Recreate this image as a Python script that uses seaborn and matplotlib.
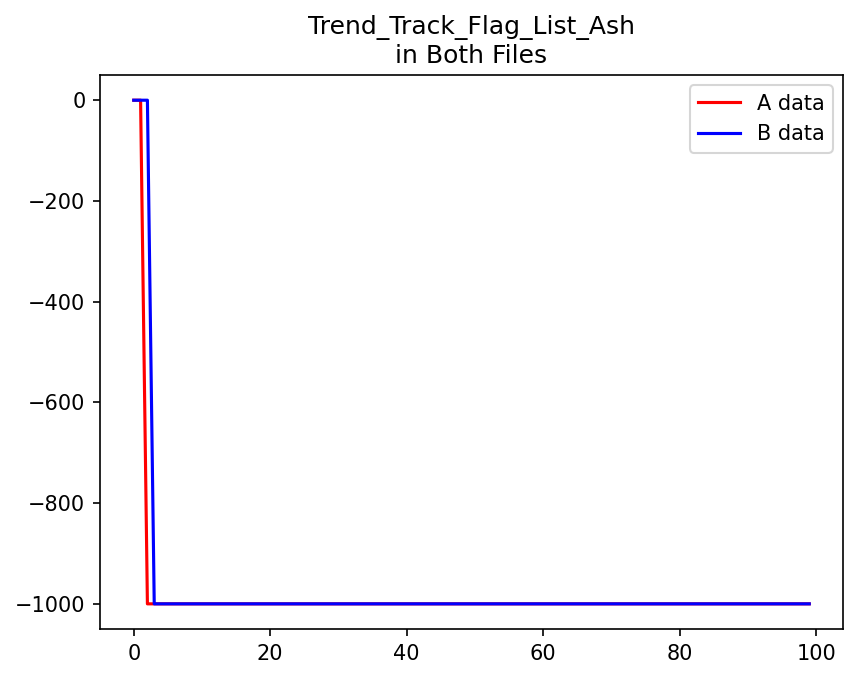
import numpy as np
import pandas as pd
import matplotlib
matplotlib.use("Agg")
import matplotlib.pyplot as plt
import seaborn as sns

# sample index and values
idx = list(range(100))
a_vals = [0, 0] + [-1000] * 98
b_vals = [0, 0, 0] + [-1000] * 97

df = pd.DataFrame({"idx": idx, "A data": a_vals, "B data": b_vals})

fig, ax = plt.subplots(figsize=(859 / 150, 679 / 150), dpi=150)
fig.subplots_adjust(left=0.1164, right=0.9814, top=0.8895, bottom=0.0736)

sns.lineplot(x="idx", y="A data", data=df, color="red", label="A data", ax=ax)
sns.lineplot(x="idx", y="B data", data=df, color="blue", label="B data", ax=ax)

ax.set_title("Trend_Track_Flag_List_Ash\nin Both Files")
ax.set_xlabel("")
ax.set_ylabel("")
ax.legend(loc="upper right")

fig.savefig("out.png", dpi=150)
